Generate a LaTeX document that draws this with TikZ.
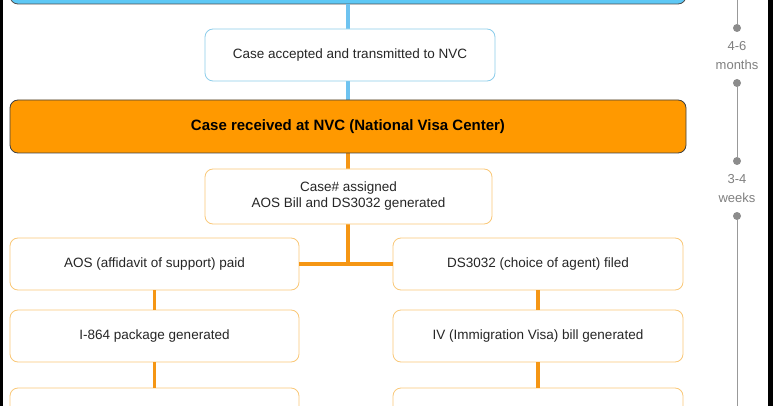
\documentclass[tikz,border=0pt]{standalone}
\usepackage{fontspec}
\setmainfont{Liberation Sans}
\definecolor{skyb}{RGB}{94,200,245}
\definecolor{skyl}{RGB}{140,205,235}
\definecolor{orl}{RGB}{250,200,120}
\definecolor{orf}{RGB}{255,153,0}
\definecolor{ors}{RGB}{245,150,20}
\definecolor{bls}{RGB}{110,195,240}
\begin{document}
\begin{tikzpicture}[x=1pt,y=-1pt,
  box/.style={draw=#1,rounded corners=8pt,fill=white,line width=0.8pt},
  txt/.style={font=\fontsize{13.5}{16}\selectfont,align=center,text=black!85},
  bl/.style={draw=bls,line width=3.5pt},
  ol/.style={draw=ors,line width=3.5pt},
  dot/.style={circle,fill=gray!90,inner sep=0pt,minimum width=6pt,minimum height=8pt},
  tl/.style={draw=gray!80,line width=1pt}]
\useasboundingbox (0,0) rectangle (773,406);
\fill[black] (0,0) rectangle (773,406);
\fill[white] (3,0) rectangle (768,406);
\begin{scope}
\clip (3,0) rectangle (768,406);
\draw[fill=skyb,draw=black!70,rounded corners=8pt,line width=0.8pt] (10,-40) rectangle (686,4);
\coordinate (topb) at (348,4);
\coordinate (mid) at (348,264);
\draw[bl] (topb) -- (348,30);
\draw[bl] (348,80) -- (348,101);
\draw[ol] (348,152) -- (348,170);
\draw[ol] (348,223) -- (mid);
\node[box=skyl,minimum width=290pt,minimum height=52pt,txt] (acc) at (350,55) {Case accepted and transmitted to NVC};
\node[draw=black!75,fill=orf,rounded corners=8pt,line width=0.8pt,minimum width=676pt,minimum height=53pt,font=\fontsize{15}{18}\selectfont\bfseries] (nvc) at (348,126.5) {Case received at NVC (National Visa Center)};
\node[box=orl,minimum width=287pt,minimum height=55pt,txt] (cas) at (348.5,196.5) {Case\# assigned\\AOS Bill and DS3032 generated};
\node[box=orl,minimum width=289pt,minimum height=52pt,txt] (aos) at (154.5,264) {AOS (affidavit of support) paid};
\node[box=orl,minimum width=290pt,minimum height=52pt,txt] (ds) at (538,264) {DS3032 (choice of agent) filed};
\node[box=orl,minimum width=289pt,minimum height=52pt,txt] (i864) at (154.5,336) {I-864 package generated};
\node[box=orl,minimum width=290pt,minimum height=52pt,txt] (iv) at (538,336) {IV (Immigration Visa) bill generated};
\node[box=orl,minimum width=289pt,minimum height=52pt] (b1) at (154.5,414) {};
\node[box=orl,minimum width=290pt,minimum height=52pt] (b2) at (538,414) {};
\draw[ol] (aos.east) -- (ds.west);
\draw[ol] (aos.south) -- (i864.north);
\draw[ol] (ds.south) -- (iv.north);
\draw[ol] (i864.south) -- (b1.north);
\draw[ol] (iv.south) -- (b2.north);
\node[dot] (d1) at (737,28) {};
\node[dot] (d2) at (737,83) {};
\node[dot] (d3) at (737,161) {};
\node[dot] (d4) at (737,216) {};
\coordinate (t0) at (737,0);
\coordinate (t1) at (737,406);
\draw[tl] (t0) -- (d1);
\draw[tl] (d2) -- (d3);
\draw[tl] (d4) -- (t1);
\node[font=\fontsize{13}{19}\selectfont,text=gray,align=center] (l1) at (737,56) {4-6\\months};
\node[font=\fontsize{13}{19}\selectfont,text=gray,align=center] (l2) at (737,189) {3-4\\weeks};
\end{scope}
\end{tikzpicture}
\end{document}
